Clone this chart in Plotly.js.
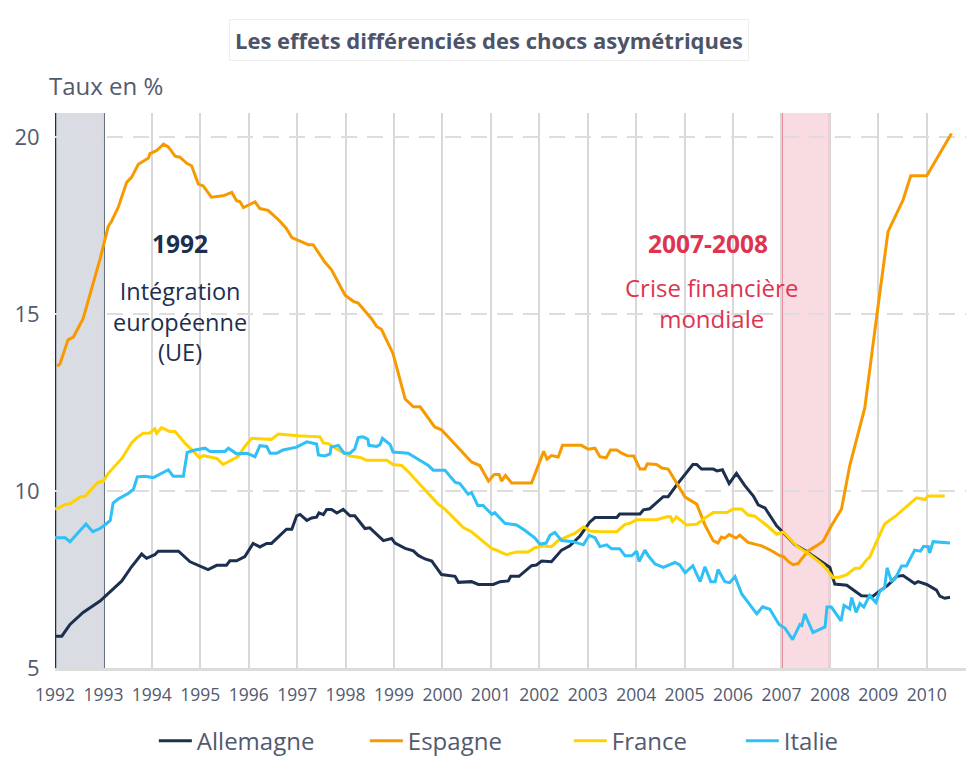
<!DOCTYPE html>
<html>
<head>
<meta charset="utf-8">
<script src="https://cdn.plot.ly/plotly-3.0.1.min.js"></script>
<style>
  html, body { margin: 0; padding: 0; background: #ffffff; }
  #chart { width: 979px; height: 770px; }
</style>
</head>
<body>
<div id="chart"></div>
<script>
// ---- Data (taux de chômage, en %) ----
const seriesNames = ["Allemagne", "Espagne", "France", "Italie"];
const yearTicks = [1992,1993,1994,1995,1996,1997,1998,1999,2000,2001,2002,2003,2004,2005,2006,2007,2008,2009,2010];

const allemagneX = [1992.00,1992.14,1992.31,1992.58,1992.93,1993.38,1993.58,1993.79,1993.89,1994.06,1994.13,1994.55,1994.79,1995.16,1995.34,1995.54,1995.61,1995.75,1995.92,1996.09,1996.23,1996.37,1996.47,1996.78,1996.89,1996.99,1997.06,1997.20,1997.30,1997.40,1997.45,1997.54,1997.61,1997.71,1997.82,1997.95,1998.09,1998.19,1998.40,1998.50,1998.78,1998.95,1999.02,1999.23,1999.40,1999.50,1999.64,1999.78,1999.98,2000.26,2000.33,2000.60,2000.74,2001.05,2001.19,2001.36,2001.41,2001.58,2001.84,2001.94,2002.05,2002.25,2002.46,2002.63,2002.84,2003.04,2003.15,2003.60,2003.66,2004.08,2004.15,2004.28,2004.56,2004.66,2004.83,2005.04,2005.17,2005.25,2005.35,2005.59,2005.67,2005.78,2005.92,2006.07,2006.24,2006.42,2006.52,2006.66,2006.90,2007.28,2007.52,2008.00,2008.10,2008.35,2008.65,2008.89,2009.00,2009.20,2009.38,2009.51,2009.75,2009.82,2010.00,2010.20,2010.27,2010.37,2010.48];
const allemagneY = [5.90,5.90,6.23,6.57,6.89,7.46,7.86,8.22,8.10,8.20,8.30,8.30,8.00,7.78,7.90,7.90,8.03,8.03,8.15,8.52,8.42,8.52,8.52,8.92,8.92,9.30,9.34,9.17,9.24,9.26,9.38,9.33,9.48,9.48,9.38,9.48,9.30,9.30,8.94,8.96,8.60,8.66,8.53,8.38,8.31,8.18,8.08,8.02,7.64,7.59,7.42,7.44,7.36,7.36,7.44,7.46,7.59,7.59,7.89,7.91,8.02,8.00,8.33,8.45,8.73,9.12,9.25,9.25,9.35,9.35,9.47,9.50,9.84,9.84,10.16,10.52,10.75,10.75,10.62,10.62,10.57,10.60,10.21,10.50,10.16,9.86,9.61,9.52,9.02,8.48,8.29,7.84,7.37,7.34,7.04,7.03,7.15,7.34,7.59,7.61,7.39,7.44,7.36,7.20,7.03,6.97,7.00];

const espagneX = [1992.04,1992.10,1992.27,1992.38,1992.58,1992.79,1992.93,1993.10,1993.17,1993.31,1993.48,1993.58,1993.72,1993.93,1993.96,1994.10,1994.24,1994.34,1994.48,1994.58,1994.72,1994.82,1994.96,1995.06,1995.23,1995.47,1995.65,1995.75,1995.82,1995.89,1995.99,1996.13,1996.23,1996.40,1996.64,1996.78,1996.89,1997.02,1997.23,1997.33,1997.57,1997.71,1997.99,1998.16,1998.26,1998.54,1998.64,1998.74,1998.98,1999.23,1999.40,1999.54,1999.84,1999.98,2000.60,2000.77,2000.95,2001.07,2001.17,2001.22,2001.30,2001.43,2001.84,2002.09,2002.16,2002.25,2002.39,2002.48,2002.87,2003.01,2003.15,2003.25,2003.38,2003.47,2003.60,2003.70,2003.81,2003.95,2004.08,2004.18,2004.23,2004.42,2004.53,2004.66,2004.83,2005.01,2005.25,2005.42,2005.59,2005.69,2005.76,2005.83,2005.92,2006.06,2006.14,2006.31,2006.59,2006.76,2006.97,2007.04,2007.14,2007.24,2007.34,2007.55,2007.72,2007.86,2008.03,2008.24,2008.41,2008.72,2008.96,2009.20,2009.51,2009.67,2010.00,2010.51];
const espagneY = [13.53,13.58,14.27,14.35,14.87,15.85,16.55,17.48,17.63,18.03,18.72,18.86,19.23,19.41,19.53,19.62,19.80,19.72,19.46,19.43,19.26,19.19,18.67,18.62,18.30,18.34,18.44,18.20,18.17,18.01,18.08,18.17,17.98,17.93,17.63,17.41,17.16,17.08,16.96,16.96,16.47,16.25,15.53,15.36,15.31,14.86,14.65,14.57,13.88,12.60,12.38,12.38,11.81,11.73,10.82,10.72,10.28,10.47,10.47,10.28,10.44,10.23,10.23,11.12,10.90,11.00,10.96,11.29,11.29,11.18,11.21,10.97,10.94,11.16,11.16,11.07,11.00,10.99,10.62,10.62,10.77,10.75,10.65,10.62,10.23,9.83,9.63,9.04,8.60,8.53,8.70,8.67,8.77,8.67,8.75,8.55,8.45,8.34,8.17,8.15,8.01,7.92,7.95,8.31,8.45,8.58,9.02,9.49,10.72,12.35,14.87,17.33,18.22,18.91,18.91,20.10];

const franceX = [1992.00,1992.10,1992.21,1992.31,1992.52,1992.62,1992.89,1993.00,1993.10,1993.38,1993.58,1993.69,1993.82,1993.96,1994.06,1994.10,1994.20,1994.31,1994.37,1994.48,1994.68,1994.99,1995.06,1995.34,1995.47,1995.78,1995.92,1996.06,1996.47,1996.61,1997.02,1997.47,1997.54,1997.64,1997.85,1998.09,1998.30,1998.43,1998.85,1998.98,1999.16,1999.29,1999.91,2000.05,2000.43,2000.60,2001.02,2001.08,2001.32,2001.53,2001.77,2001.91,2002.08,2002.25,2002.39,2002.63,2002.73,2002.92,2003.04,2003.25,2003.60,2003.77,2003.87,2004.01,2004.42,2004.63,2004.71,2004.75,2004.83,2005.04,2005.25,2005.45,2005.59,2005.87,2006.00,2006.18,2006.31,2006.45,2006.73,2006.90,2007.04,2007.31,2007.59,2007.86,2008.07,2008.21,2008.35,2008.52,2008.62,2008.76,2008.82,2009.13,2009.38,2009.79,2009.96,2010.03,2010.37];
const franceY = [9.49,9.54,9.62,9.64,9.83,9.85,10.25,10.28,10.50,10.92,11.36,11.51,11.63,11.64,11.76,11.63,11.79,11.73,11.68,11.68,11.36,10.94,11.00,10.92,10.75,10.97,11.26,11.49,11.46,11.61,11.56,11.53,11.36,11.34,11.16,10.99,10.95,10.87,10.87,10.75,10.72,10.55,9.63,9.49,8.97,8.85,8.37,8.35,8.20,8.28,8.28,8.40,8.45,8.43,8.60,8.75,8.80,8.99,8.87,8.85,8.85,9.06,9.09,9.19,9.19,9.27,9.27,9.14,9.27,9.04,9.06,9.27,9.39,9.39,9.49,9.49,9.32,9.29,8.99,8.78,8.84,8.45,8.20,7.91,7.55,7.57,7.64,7.82,7.82,8.06,8.13,9.07,9.32,9.81,9.76,9.86,9.86];

const italieX = [1992.00,1992.21,1992.31,1992.48,1992.64,1992.78,1992.93,1993.03,1993.14,1993.20,1993.31,1993.51,1993.62,1993.70,1993.86,1994.03,1994.34,1994.44,1994.65,1994.73,1994.89,1995.10,1995.20,1995.51,1995.58,1995.75,1995.96,1996.13,1996.23,1996.37,1996.44,1996.58,1996.71,1996.99,1997.20,1997.40,1997.44,1997.57,1997.68,1997.70,1997.85,1997.97,1998.09,1998.19,1998.26,1998.36,1998.46,1998.48,1998.64,1998.71,1998.76,1998.92,1998.98,1999.29,1999.71,1999.81,2000.05,2000.26,2000.36,2000.53,2000.60,2000.73,2000.84,2001.02,2001.08,2001.29,2001.53,2001.70,2001.91,2002.01,2002.14,2002.22,2002.32,2002.46,2002.70,2002.91,2003.03,2003.15,2003.25,2003.39,2003.49,2003.66,2003.77,2003.91,2004.01,2004.06,2004.18,2004.25,2004.39,2004.56,2004.80,2004.90,2005.01,2005.17,2005.32,2005.42,2005.54,2005.63,2005.69,2005.83,2005.93,2006.04,2006.18,2006.49,2006.61,2006.76,2006.95,2007.07,2007.23,2007.38,2007.42,2007.48,2007.65,2007.90,2007.94,2008.03,2008.23,2008.29,2008.41,2008.45,2008.54,2008.62,2008.70,2008.82,2008.95,2009.03,2009.13,2009.18,2009.27,2009.34,2009.48,2009.58,2009.75,2009.87,2009.93,2010.03,2010.06,2010.13,2010.48];
const italieY = [8.68,8.68,8.57,8.83,9.07,8.85,8.94,9.04,9.17,9.66,9.78,9.93,10.05,10.40,10.42,10.38,10.60,10.42,10.42,11.09,11.16,11.21,11.12,11.12,11.21,11.05,11.07,10.97,11.28,11.26,11.07,11.07,11.16,11.24,11.39,11.33,11.02,10.99,11.05,11.24,11.29,11.07,11.07,11.19,11.51,11.53,11.46,11.29,11.26,11.31,11.49,11.31,11.10,11.07,10.72,10.59,10.59,10.25,10.21,9.91,9.96,9.59,9.59,9.34,9.39,9.09,9.04,8.89,8.67,8.50,8.53,8.75,8.83,8.60,8.57,8.48,8.75,8.68,8.43,8.48,8.37,8.37,8.17,8.17,8.30,8.01,8.33,8.17,7.94,7.84,7.98,7.91,7.69,7.89,7.44,7.86,7.44,7.44,7.78,7.44,7.41,7.58,7.09,6.53,6.73,6.66,6.23,6.13,5.80,6.23,6.20,6.53,6.00,6.16,6.72,6.72,6.33,6.77,6.67,6.99,6.57,6.82,6.72,7.05,6.85,7.17,7.27,7.83,7.46,7.51,7.88,7.88,8.33,8.30,8.43,8.43,8.25,8.57,8.53];

const periodUE = [1992, 1993];
const periodCrise = [2007, 2008];

// ---- Styling ----
const FONT = "'Open Sans', 'Noto Sans', sans-serif";
const TEXT = "#525a6f";
const NAVY = "#1d2f4f";
const RED = "#e0334f";
const colors = {Allemagne: "#1d2f4f", Espagne: "#f79a00", France: "#ffd200", Italie: "#2ec0f6"};
const legendWidths = {Allemagne: 163, Espagne: 156, France: 124, Italie: 70};

const xs = [allemagneX, espagneX, franceX, italieX];
const ys = [allemagneY, espagneY, franceY, italieY];

const traces = seriesNames.map((name, i) => ({
  type: "scatter",
  mode: "lines",
  name: name,
  x: xs[i],
  y: ys[i],
  line: {color: colors[name], width: 3},
  legendwidth: legendWidths[name],
  hoverinfo: "skip"
}));

const layout = {
  width: 979,
  height: 770,
  paper_bgcolor: "#ffffff",
  plot_bgcolor: "#ffffff",
  margin: {l: 55, r: 13, t: 113, b: 102, autoexpand: false},
  font: {family: FONT, color: TEXT},
  showlegend: true,
  legend: {
    orientation: "h",
    x: 0.1085, xanchor: "left",
    y: -0.132, yanchor: "middle",
    font: {family: FONT, size: 24, color: TEXT},
    itemwidth: 33
  },
  xaxis: {
    range: [1992, 2010.81],
    tickmode: "array",
    tickvals: yearTicks,
    ticktext: yearTicks.map(String),
    showgrid: true,
    gridcolor: "#d8d8d8",
    gridwidth: 2,
    zeroline: false,
    showline: true,
    linecolor: "#dcdcdc",
    linewidth: 3,
    ticks: "outside",
    ticklen: 9,
    tickcolor: "rgba(0,0,0,0)",
    tickfont: {family: FONT, size: 17.5, color: TEXT},
    automargin: false,
    fixedrange: true
  },
  yaxis: {
    range: [5, 20.68],
    tickvals: [5, 10, 15, 20],
    showgrid: true,
    gridcolor: "#dddddd",
    gridwidth: 2.5,
    griddash: "16px,10px",
    zeroline: false,
    showline: false,
    ticks: "outside",
    ticklen: 10,
    tickcolor: "rgba(0,0,0,0)",
    tickfont: {family: FONT, size: 22, color: TEXT},
    automargin: false,
    fixedrange: true
  },
  shapes: [
    {type: "rect", xref: "x", yref: "paper", x0: periodUE[0], x1: periodUE[1], y0: 0, y1: 1,
     fillcolor: "#d9dce3", line: {width: 0}, layer: "below"},
    {type: "line", xref: "x", yref: "paper", x0: periodUE[0], x1: periodUE[0], y0: 0, y1: 1,
     line: {color: NAVY, width: 2.5}, layer: "between"},
    {type: "line", xref: "x", yref: "paper", x0: periodUE[1], x1: periodUE[1], y0: 0, y1: 1,
     line: {color: NAVY, width: 2.5}, layer: "between"},
    {type: "rect", xref: "x", yref: "paper", x0: periodCrise[0], x1: periodCrise[1], y0: 0, y1: 1,
     fillcolor: "#f8dce2", line: {width: 0}, layer: "below"},
    {type: "line", xref: "x", yref: "paper", x0: periodCrise[0], x1: periodCrise[0], y0: 0, y1: 1,
     line: {color: RED, width: 2}, layer: "between"},
    {type: "line", xref: "x", yref: "paper", x0: periodCrise[1], x1: periodCrise[1], y0: 0, y1: 1,
     line: {color: RED, width: 2}, layer: "between"}
  ],
  annotations: [
    {xref: "paper", yref: "paper", x: 0.4764, y: 1.1315, xanchor: "center", yanchor: "middle",
     text: "<b>Les effets différenciés des chocs asymétriques</b>", showarrow: false,
     font: {family: FONT, size: 22, color: "#4d546a"},
     bordercolor: "#eeeeee", borderwidth: 1, borderpad: 5, bgcolor: "#ffffff"},
    {xref: "paper", yref: "paper", x: -0.0088, y: 1.05, xanchor: "left", yanchor: "middle",
     text: "Taux en %", showarrow: false, font: {family: FONT, size: 24, color: TEXT}},
    {xref: "x", yref: "y", x: 1994.58, y: 17.0, xanchor: "center", yanchor: "middle",
     text: "<b>1992</b>", showarrow: false, font: {family: FONT, size: 24.5, color: NAVY}},
    {xref: "x", yref: "y", x: 1994.58, y: 14.8, xanchor: "center", yanchor: "middle",
     text: "Intégration<br>européenne<br>(UE)", showarrow: false,
     font: {family: FONT, size: 23.5, color: NAVY, weight: 500}},
    {xref: "x", yref: "y", x: 2005.48, y: 17.0, xanchor: "center", yanchor: "middle",
     text: "<b>2007-2008</b>", showarrow: false, font: {family: FONT, size: 24.5, color: RED}},
    {xref: "x", yref: "y", x: 2005.56, y: 15.32, xanchor: "center", yanchor: "middle",
     text: "Crise financière<br>mondiale", showarrow: false,
     font: {family: FONT, size: 24, color: RED, weight: 500}}
  ]
};

Plotly.newPlot("chart", traces, layout, {staticPlot: true, displayModeBar: false});
</script>
</body>
</html>
